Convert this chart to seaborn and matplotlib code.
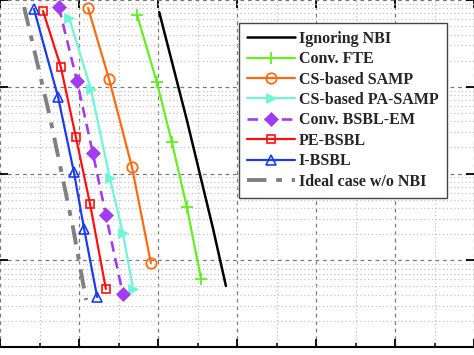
import matplotlib
matplotlib.use("Agg")
import matplotlib.pyplot as plt
import seaborn as sns
from matplotlib.ticker import MultipleLocator, LogLocator, NullFormatter

# values (x: SNR-like linear axis, y: error rate, log axis)
ignoring_x = [4.03, 4.73, 5.39, 5.72]
ignoring_y = [0.727, 0.0414, 0.00235, 5.05e-4]

fte_x = [3.47, 3.97, 4.35, 4.73, 5.09]
fte_y = [0.671, 0.1135, 0.0231, 0.00411, 6.08e-4]

samp_x = [2.23, 2.76, 3.34, 3.82]
samp_y = [0.809, 0.123, 0.0119, 9.29e-4]

pa_samp_x = [1.75, 2.30, 2.78, 3.11, 3.37]
pa_samp_y = [0.621, 0.0942, 0.00887, 0.00206, 4.67e-4]

bsbl_em_x = [1.49, 1.95, 2.35, 2.68, 3.11]
bsbl_em_y = [0.830, 0.116, 0.0172, 0.00333, 4.08e-4]

pe_bsbl_x = [1.09, 1.54, 1.92, 2.28, 2.68]
pe_bsbl_y = [0.746, 0.169, 0.0264, 0.00445, 4.67e-4]

i_bsbl_x = [0.86, 1.47, 1.87, 2.13, 2.46]
i_bsbl_y = [0.787, 0.0762, 0.0104, 0.00229, 3.77e-4]

ideal_x = [0.61, 1.27, 1.85, 2.18]
ideal_y = [0.830, 0.0436, 0.00235, 3.48e-4]

labels = [
    "Ignoring NBI",
    "Conv. FTE",
    "CS-based SAMP",
    "CS-based PA-SAMP",
    "Conv. BSBL-EM",
    "PE-BSBL",
    "I-BSBL",
    "Ideal case w/o NBI",
]

sns.set_style("white")
plt.rcParams["font.family"] = ["Liberation Serif", "DejaVu Serif"]

fig = plt.figure(figsize=(4.74, 3.55), dpi=100)
ax = fig.add_axes([0, 8 / 355, 1, 347 / 355])

styles = [
    (ignoring_x, ignoring_y, dict(color="black", linestyle="-", lw=1.8)),
    (fte_x, fte_y, dict(color="#66ee22", marker="+", markersize=9, markeredgewidth=1.3,
                        markeredgecolor="#66ee22", linestyle="-", lw=1.6)),
    (samp_x, samp_y, dict(color="#ff6a10", marker="o", markersize=7.5, markerfacecolor="none",
                          markeredgecolor="#ff6a10", markeredgewidth=1.3,
                          linestyle="-", lw=1.6)),
    (pa_samp_x, pa_samp_y, dict(color="#6ff5d8", marker=">", markersize=7.5,
                                markeredgecolor="#6ff5d8", markeredgewidth=0.5,
                                linestyle="-", lw=1.6)),
    (bsbl_em_x, bsbl_em_y, dict(color="#a23cf2", marker="D", markersize=7,
                                markeredgecolor="#a23cf2", markeredgewidth=0.5,
                                linestyle=(0, (4, 2.5)), lw=1.9)),
    (pe_bsbl_x, pe_bsbl_y, dict(color="#ff1010", marker="s", markersize=6,
                                markerfacecolor="none", markeredgecolor="#ff1010",
                                markeredgewidth=1.2, linestyle="-", lw=1.6)),
    (i_bsbl_x, i_bsbl_y, dict(color="#1a3cf0", marker="^", markersize=7.5,
                              markerfacecolor="none", markeredgecolor="#1a3cf0",
                              markeredgewidth=1.2, linestyle="-", lw=1.6)),
    (ideal_x, ideal_y, dict(color="#808080", linestyle=(0, (5, 2.5, 1.5, 2.5)), lw=2.8)),
]

for label, (xs, ys, kw) in zip(labels, styles):
    sns.lineplot(x=xs, y=ys, ax=ax, label=label, estimator=None, sort=False, **kw)

ax.set_yscale("log")
ax.set_xlim(0, 12)
ax.set_ylim(1e-4, 1)
ax.xaxis.set_major_locator(MultipleLocator(2))
ax.xaxis.set_minor_locator(MultipleLocator(1))
ax.yaxis.set_major_locator(LogLocator(base=10, numticks=10))
ax.yaxis.set_minor_locator(LogLocator(base=10, subs=range(2, 10), numticks=20))
ax.yaxis.set_minor_formatter(NullFormatter())

ax.grid(which="major", linestyle=(0, (3, 3)), color="#7a7a7a", lw=0.9)
ax.grid(which="minor", linestyle=(0, (1, 2)), color="#c4c4c4", lw=0.9)
ax.set_axisbelow(True)

ax.tick_params(which="both", direction="in", top=True, right=True, left=True,
               bottom=True, labelbottom=False, labelleft=False, color="black")
ax.tick_params(which="major", length=6, width=1.3)
ax.tick_params(axis="x", which="minor", length=3, width=1.1, top=False)
ax.tick_params(axis="y", which="minor", length=0)

for side in ["left", "top", "right"]:
    ax.spines[side].set_visible(False)
ax.spines["bottom"].set_color("black")
ax.spines["bottom"].set_linewidth(1.5)
ax.set_xlabel("")
ax.set_ylabel("")

leg = ax.legend(
    loc="upper left",
    bbox_to_anchor=(0.504, 0.934),
    borderaxespad=0,
    prop={"weight": "bold", "size": 11.5},
    frameon=True,
    fancybox=False,
    edgecolor="#444444",
    framealpha=1,
    handlelength=3.0,
    handletextpad=0.25,
    labelspacing=0.275,
    borderpad=0.5,
)
leg.get_frame().set_linewidth(1.0)

fig.savefig("out.png", dpi=100)
